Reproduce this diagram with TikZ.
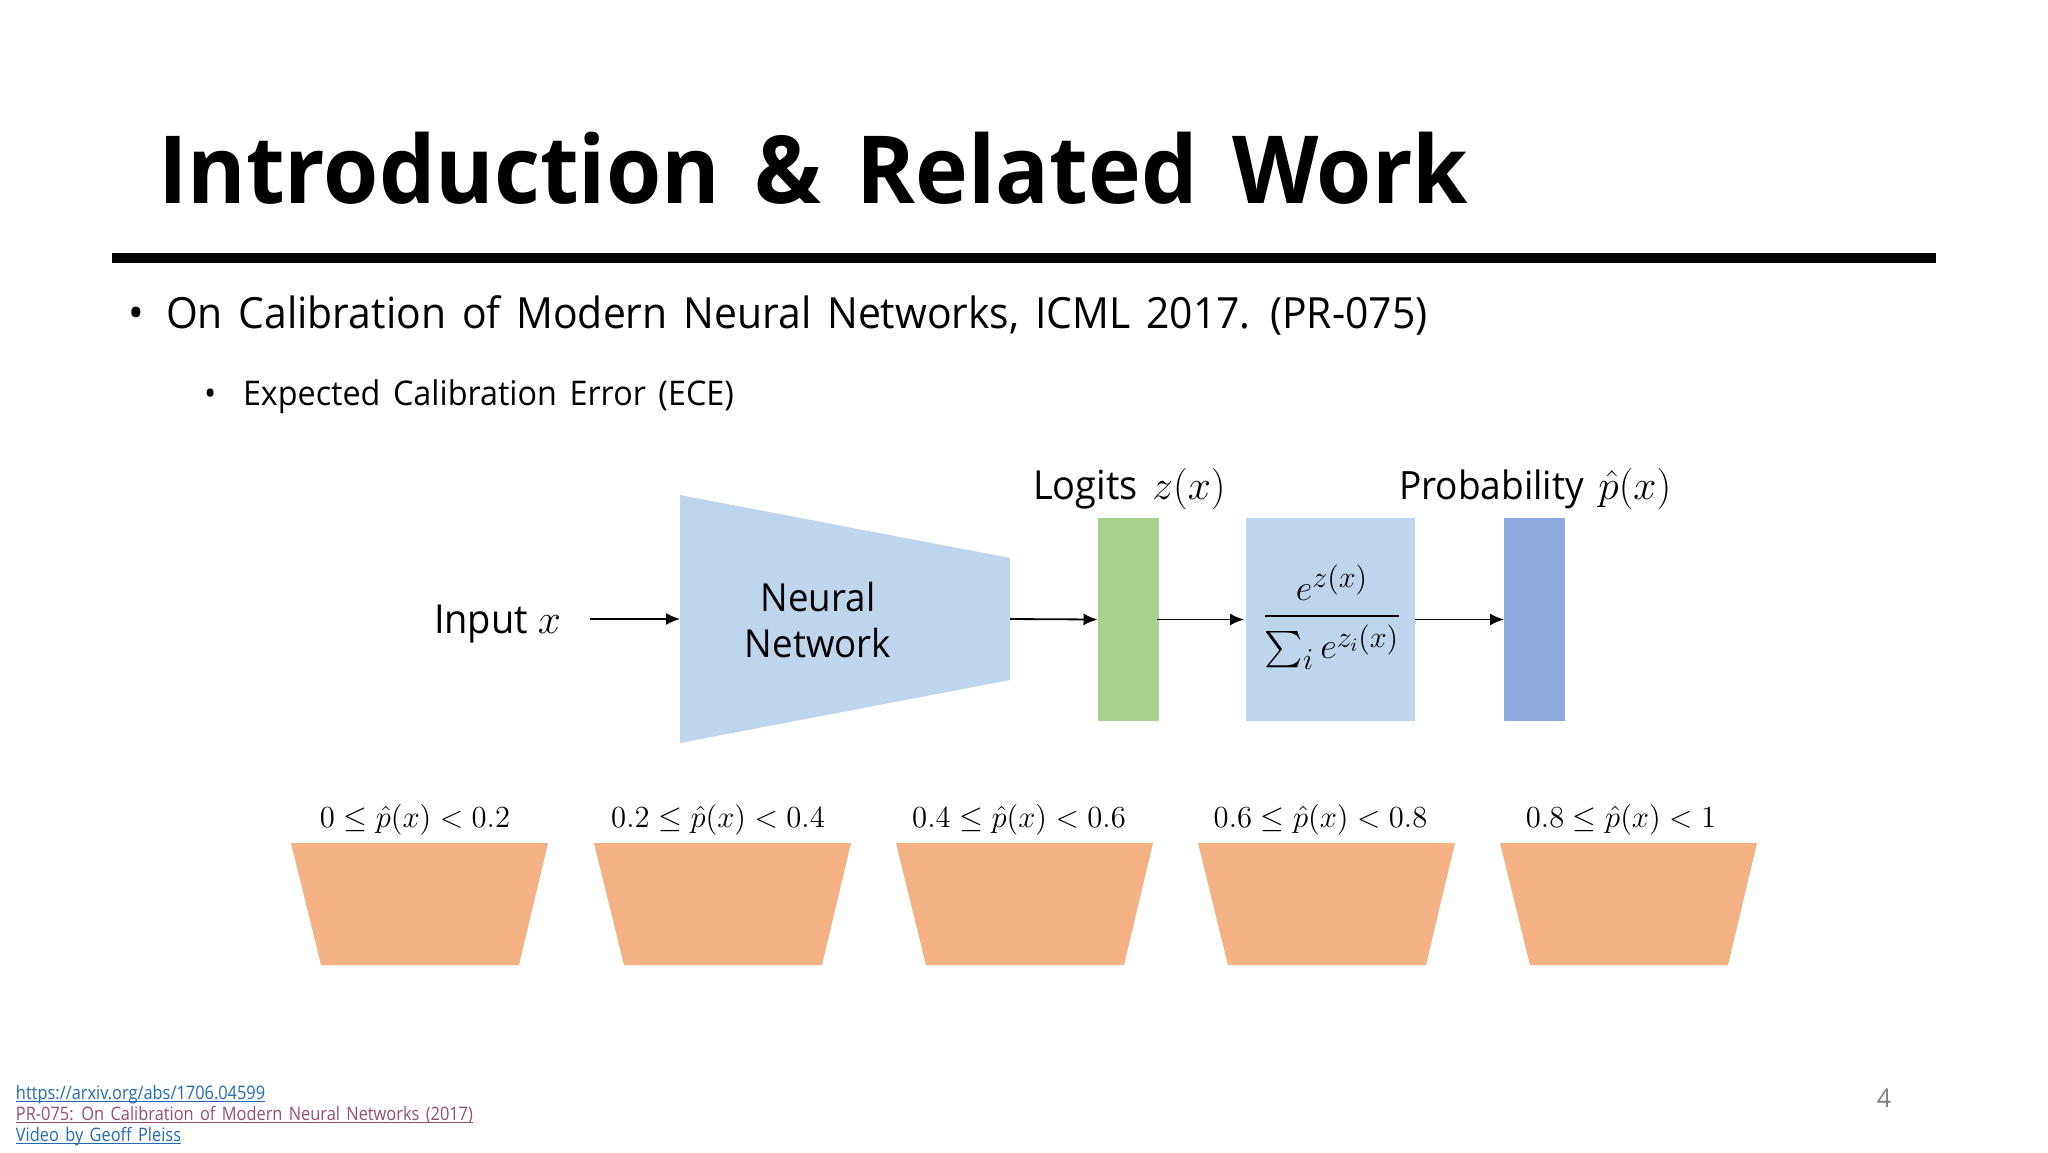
\documentclass[tikz,border=0pt]{standalone}
\usepackage[no-math]{fontspec}
\usepackage{amsmath}
\setmainfont[WordSpace=1.5,FakeStretch=0.95]{Open Sans}
\newfontfamily\footfont[WordSpace=1.5,FakeStretch=0.88]{Open Sans}
\usetikzlibrary{arrows.meta}
\definecolor{nnblue}{HTML}{BDD6EE}
\definecolor{logitgreen}{HTML}{A9D18E}
\definecolor{probblue}{HTML}{8FAADC}
\definecolor{binorange}{HTML}{F4B183}
\definecolor{linkblue}{HTML}{1F6CB5}
\definecolor{linkvisited}{HTML}{954F72}
\newcommand{\fs}[1]{\fontsize{#1}{#1}\selectfont}
\newcommand{\ulink}[1]{\setbox0=\hbox{#1}\rlap{\rule[-1.7pt]{\wd0}{0.65pt}}\box0}
\newcommand{\binlabel}[1]{\scalebox{1.065}{$#1$}}
\tikzset{
  x=0.5pt,y=-0.5pt,
  txt/.style={anchor=base west,inner sep=0pt,outer sep=0pt,text=black},
  ctr/.style={anchor=base,inner sep=0pt,outer sep=0pt,text=black},
  binshape/.style={fill=binorange,draw=none},
  bar/.style={fill=#1,draw=none,minimum width=30.5pt,minimum height=101.5pt,inner sep=0pt,outer sep=0pt},
  flow/.style={draw=black,line width=0.9pt,-{Latex[length=7pt,width=6pt]}},
  foot/.style={txt,font=\footfont\fs{9.3}},
}
\begin{document}
\begin{tikzpicture}
\useasboundingbox (0,0) rectangle (2048,1152);
% title
\node[txt,font=\fs{47}\bfseries] (title) at (158,203) {Introduction \& Related Work};
\node[fill=black,draw=none,minimum width=912pt,minimum height=5pt,inner sep=0pt,outer sep=0pt] (rule) at (1024,258) {};
% bullets
\node[txt,font=\fs{22}] (b1) at (128,328) {•};
\node[txt,font=\fs{21.5}] (l1) at (166,328) {On Calibration of Modern Neural Networks, ICML 2017. (PR-075)};
\node[txt,font=\fs{17}] (b2) at (204,405) {•};
\node[txt,font=\fs{17}] (l2) at (243,405) {Expected Calibration Error (ECE)};
% network
\coordinate (nnW) at (680,619);
\coordinate (nnE) at (1010,619);
\coordinate (inS) at (590,619);
\fill[nnblue] (680,495) -- (1010,558) -- (1010,680) -- (680,743) -- cycle;
\node[ctr,font=\fs{19.3}] (neural) at (818,611) {Neural};
\node[ctr,font=\fs{19.3}] (network) at (818,657) {Network};
\node[txt,font=\fs{20}] (input) at (434,633) {Input\hspace{-2.5pt} $x$};
\node[bar=logitgreen] (logit) at (1128,619.5) {};
\node[fill=nnblue,draw=none,minimum width=84.5pt,minimum height=101.5pt,inner sep=0pt,outer sep=0pt] (soft) at (1330.5,619.5) {};
\node[bar=probblue] (prob) at (1534.5,619.5) {};
\node[txt,font=\fs{20}] (logitl) at (1033,499) {Logits $z(x)$};
\node[txt,font=\fs{19.5}] (probl) at (1399,499) {Probability $\hat{p}(x)$};
\node[inner sep=0pt,outer sep=0pt,text=black,font=\fs{19}] (frac) at (1332,617)
  {\scalebox{1.05}{$\genfrac{}{}{1.1pt}{0}{e^{z(x)}}{\sum_i e^{z_i(x)}}$}};
\draw[flow] (inS) -- (nnW);
\draw[flow] (nnE) -- (logit.west);
\draw[flow,shorten <=-1pt,shorten >=1pt] (logit.east) -- (soft.west);
\draw[flow] (soft.east) -- (prob.west);
% bins
\foreach \bx in {291,594,896,1198,1500}
  \fill[binshape] (\bx,843) -- (\bx+257,843) -- (\bx+228,965) -- (\bx+30,965) -- cycle;
\node[ctr,font=\fs{15}] (la) at (415,827) {\binlabel{0\le\hat{p}(x)<0.2}};
\node[ctr,font=\fs{15}] (lb) at (718,827) {\binlabel{0.2\le\hat{p}(x)<0.4}};
\node[ctr,font=\fs{15}] (lc) at (1019,827) {\binlabel{0.4\le\hat{p}(x)<0.6}};
\node[ctr,font=\fs{15}] (ld) at (1320.5,827) {\binlabel{0.6\le\hat{p}(x)<0.8}};
\node[ctr,font=\fs{15}] (le) at (1621,827) {\binlabel{0.8\le\hat{p}(x)<1}};
% footer
\node[foot,text=linkblue] (f1) at (16,1099) {\ulink{https://arxiv.org/abs/1706.04599}};
\node[foot,text=linkvisited] (f2) at (16,1120) {\ulink{PR-075: On Calibration of Modern Neural Networks (2017)}};
\node[foot,text=linkblue] (f3) at (16,1141) {\ulink{Video by Geoff Pleiss}};
\node[txt,font=\fs{13},text=black!50] (page) at (1877,1107) {4};
\end{tikzpicture}
\end{document}
